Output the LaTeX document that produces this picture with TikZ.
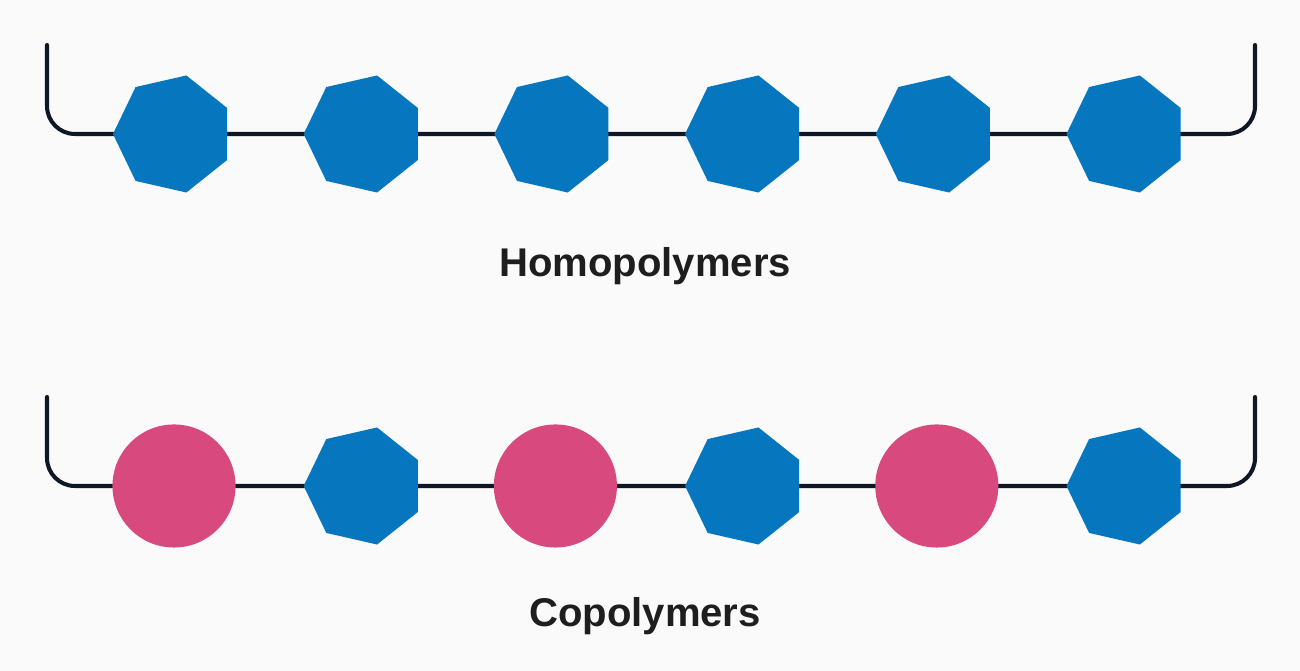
\documentclass[tikz,border=0pt]{standalone}
\usepackage{fontspec}
\setmainfont{Liberation Sans}
\usetikzlibrary{shapes.geometric,backgrounds}
\definecolor{monoblu}{HTML}{0676BE}
\definecolor{monorosa}{HTML}{D84A7E}
\definecolor{catena}{HTML}{0F1626}
\definecolor{sfondo}{HTML}{FAFAFA}
\definecolor{testo}{HTML}{1E1E1E}
\begin{document}
\begin{tikzpicture}[x=0.01cm, y=-0.01cm,
    epta/.style={regular polygon, regular polygon sides=7, shape border rotate=90,
                 fill=monoblu, inner sep=0pt, minimum size=1.2cm},
    sfera/.style={circle, fill=monorosa, inner sep=0pt, minimum size=1.23cm},
    legame/.style={draw=catena, line width=1.15pt, line cap=round, rounded corners=0.28cm},
    etichetta/.style={anchor=base, text=testo, font=\fontsize{11.4}{13}\selectfont\bfseries}]
    % Sfondo
    \begin{scope}[on background layer]
        \fill[sfondo] (0,0) rectangle (1300,671);
    \end{scope}
    \useasboundingbox (0,0) rectangle (1300,671);

    % Omopolimero
    \foreach \i in {1,...,6}
        \node[epta] (t\i) at ({173+190.7*(\i-1)},134) {};
    \coordinate (t0) at (47,45);
    \coordinate (t7) at (1255,45);
    \begin{scope}[on background layer]
        \draw[legame] (t0) |- (t1.center) -- (t2.center) -- (t3.center)
            -- (t4.center) -- (t5.center) -- (t6.center) -| (t7);
    \end{scope}
    \node[etichetta] (homo) at (645,277) {Homopolymers};

    % Copolimero
    \foreach \i in {1,3,5}
        \node[sfera] (b\i) at ({174+190.7*(\i-1)},486) {};
    \foreach \i in {2,4,6}
        \node[epta] (b\i) at ({173+190.7*(\i-1)},486) {};
    \coordinate (b0) at (47,397);
    \coordinate (b7) at (1255,397);
    \begin{scope}[on background layer]
        \draw[legame] (b0) |- (b1.center) -- (b2.center) -- (b3.center)
            -- (b4.center) -- (b5.center) -- (b6.center) -| (b7);
    \end{scope}
    \node[etichetta] (co) at (645,627) {Copolymers};
\end{tikzpicture}
\end{document}
